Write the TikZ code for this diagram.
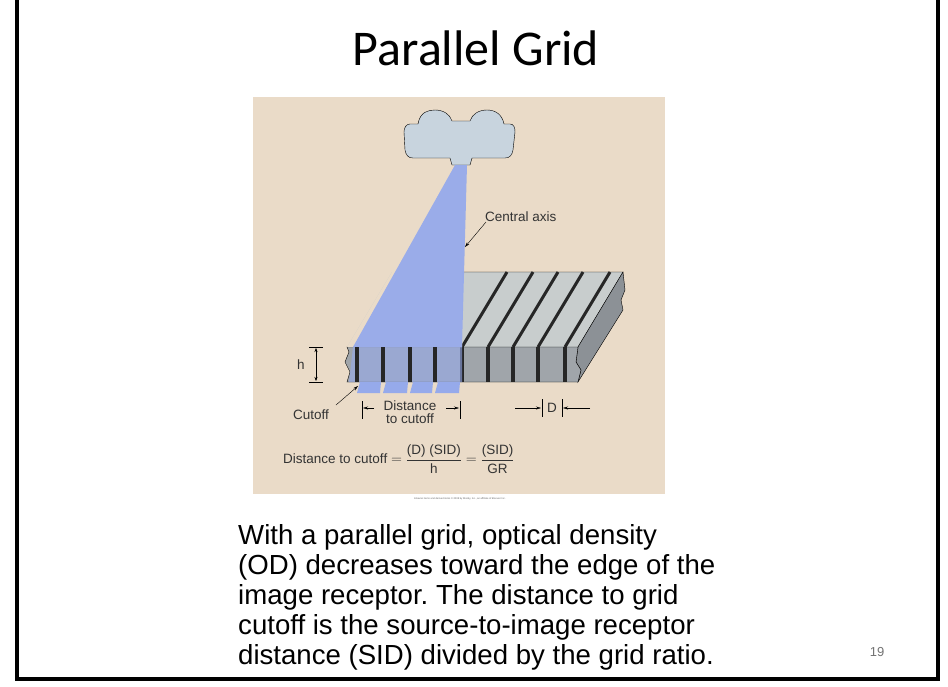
\documentclass[tikz,border=0pt]{standalone}
\usepackage{fontspec}
\setmainfont{Liberation Sans}
\newfontfamily\titlefont{Carlito}
\usetikzlibrary{arrows.meta}
\frenchspacing
\definecolor{beige}{RGB}{234,219,200}
\definecolor{beam}{RGB}{150,170,235}
\definecolor{tube}{RGB}{200,212,222}
\definecolor{face}{RGB}{160,165,170}
\definecolor{topf}{RGB}{200,205,205}
\definecolor{sidef}{RGB}{140,145,150}
\tikzset{lbl/.style={font=\fontsize{13.5}{14}\selectfont,text=black!80,inner sep=1pt},
 ar/.style={-{Stealth[length=5pt,width=3pt]},thin},
 septum/.style={line width=3.2pt,black!85}}
\begin{document}
\begin{tikzpicture}[x=1pt,y=-1pt]
\useasboundingbox (0,0) rectangle (948,686);
\fill[white] (0,0) rectangle (948,686);
\draw[line width=4pt] (17,0) -- (17,679) -- (938,679) -- (938,0);
\node[font=\titlefont\fontsize{50}{54}\selectfont] (title) at (476,48) {Parallel Grid};
\fill[beige] (253,97) rectangle (665,494);
% tube
\draw[fill=tube,thin] (410,124) -- (418,124) .. controls (420,112) and (428,110) .. (435,110) .. controls (443,110) and (450,114) .. (452,121)
 -- (470,121) .. controls (472,114) and (479,110) .. (487,110) .. controls (495,110) and (502,114) .. (504,124) -- (510,124)
 .. controls (514,124) and (515,128) .. (515,132) -- (513,150) .. controls (512,155) and (510,158) .. (505,158) -- (472,158) -- (470,165) -- (452,165) -- (450,158) -- (413,158) .. controls (408,158) and (406,155) .. (405,150) -- (404,132) .. controls (404,128) and (406,124) .. (410,124) -- cycle;
% grid top face
\fill[topf] (347,347) -- (392,272) -- (623,272) -- (578,347) -- cycle;
\draw (462,272) -- (623,272) -- (578,347);
\foreach \x in {462,488,513,538,565} \draw[line width=3pt,black!85] (\x,347) -- ++(45,-75);
% side face
\draw[fill=sidef] (578,347) -- (623,272) -- (625,290) -- (621,300) -- (623,310) -- (578,382) -- (581,370) -- (576,362) -- cycle;
% front face
\draw[fill=face] (347,347) -- (578,347) -- (576,362) -- (581,370) -- (578,382) -- (347,382) -- (350,372) -- (345,362) -- (349,352) -- cycle;
\foreach \x in {357,383,410,435,462,488,513,538,565} \draw[septum] (\x,347) -- (\x,382);
% beam
\fill[beige] (347,347) -- (392,272) -- (462,272) -- (462,347) -- cycle;
\fill[beam,opacity=0.95] (455,165) -- (467,165) -- (462,347) -- (353,347) -- cycle;
\fill[beam,opacity=0.6] (353,347) -- (462,347) -- (462,382) -- (349,382) -- cycle;
\foreach \a/\b in {360/381,386/408,413/433,438/460} \fill[beam] (\a,382) -- (\b,382) -- (\b-1,393) -- (\a-3,393) -- cycle;
\foreach \x in {357,383,410,435} \draw[septum] (\x,347) -- (\x,382);
% labels
\node[lbl,anchor=west] (ca) at (484,217) {Central axis};
\coordinate (caT) at (465,247);
\draw[ar] (ca.west) ++(2,5) -- (caT);
\node[lbl] (h) at (301,365) {h};
\draw[thin] (309,347) -- (323,347) (309,382) -- (323,382);
\draw[{Stealth[length=4pt,width=3pt]}-{Stealth[length=4pt,width=3pt]},thin] (316,348) -- (316,381);
\node[lbl] (co) at (311,415) {Cutoff};
\coordinate (coT) at (358,386);
\draw[ar] (336,405) -- (coT);
\node[lbl,align=center,font=\fontsize{13.5}{13}\selectfont] (dc) at (410,412) {Distance\\to cutoff};
\draw[thin] (362,401) -- (362,419) (460,401) -- (460,419);
\draw[ar] (374,408) -- (363,408);
\draw[ar] (446,408) -- (459,408);
\node[lbl] (D) at (552,408) {D};
\draw[thin] (542,399) -- (542,417) (562,399) -- (562,417);
\draw[ar] (515,408) -- (541,408);
\draw[ar] (590,408) -- (563,408);
\node[lbl,anchor=west] (eq) at (282,459) {Distance to cutoff $=$ $\displaystyle\frac{\hbox{(D) (SID)}}{\hbox{h}}$ $=$ $\displaystyle\frac{\hbox{(SID)}}{\hbox{GR}}$};
\node[font=\fontsize{2.5}{3}\selectfont,text=black!60] (cr) at (460,499) {Elsevier items and derived items © 2008 by Mosby, Inc., an affiliate of Elsevier Inc.};
\node[anchor=north west,align=left,font=\fontsize{27.6}{30}\selectfont,inner sep=0pt] (body) at (238,524) {With a parallel grid, optical density\\(OD) decreases toward the edge of the\\image receptor. The distance to grid\\cutoff is the source-to-image receptor\\distance (SID) divided by the grid ratio.};
\node[font=\fontsize{13}{13}\selectfont,text=black!55] (pg) at (877,652) {19};
\end{tikzpicture}
\end{document}
